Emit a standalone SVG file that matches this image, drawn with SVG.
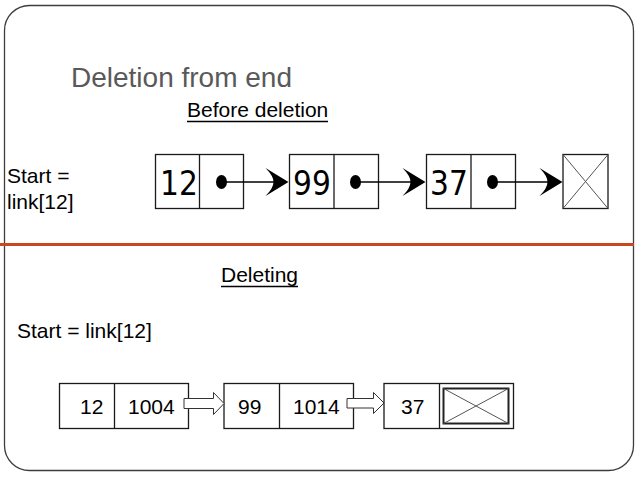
<svg xmlns="http://www.w3.org/2000/svg" width="638" height="478" viewBox="0 0 638 478">
<defs>
<style>
.frame{fill:#fff;stroke:#3d3d3d;stroke-width:1.3}
.box{fill:#fff;stroke:#1a1a1a;stroke-width:1.3}
.thin{stroke:#555;stroke-width:1;fill:none}
.big{font-family:"DejaVu Sans Condensed","DejaVu Sans",sans-serif;font-size:33px;fill:#000}
.lbl{font-family:"Liberation Sans",Arial,sans-serif;font-size:21px;fill:#000}
.title{font-family:"Liberation Sans",Arial,sans-serif;font-size:28px;fill:#595959}
.line{stroke:#000;stroke-width:1.5;fill:none}
.head{fill:#000}
.blk{fill:#fff;stroke:#333;stroke-width:1}
</style>
<path id="ah" d="M-23,-14 L0,0 L-23,14 Q-15,6 -15,0 Q-15,-6 -23,-14 Z"/>
</defs>
<rect class="frame" x="4.5" y="5.5" width="629" height="465" rx="25" ry="25"/>
<line x1="0" y1="244.5" x2="634" y2="244.5" stroke="#c9471a" stroke-width="3"/>
<g id="title"><text class="title" x="71" y="87">Deletion from end</text></g>
<g id="label-before"><text class="lbl" x="187" y="117">Before deletion</text><line x1="187" y1="121.5" x2="328" y2="121.5" stroke="#000" stroke-width="1.3"/></g>
<g id="label-start1"><text class="lbl" x="7" y="183">Start =</text><text class="lbl" x="7" y="209">link[12]</text></g>
<g id="label-deleting"><text class="lbl" x="221" y="282">Deleting</text><line x1="221" y1="286.5" x2="298" y2="286.5" stroke="#000" stroke-width="1.3"/></g>
<g id="label-start2"><text class="lbl" x="17" y="338">Start = link[12]</text></g>

<g id="top-node-12"><rect class="box" x="155.5" y="154.5" width="88" height="54"/><line class="box" x1="199.5" y1="154.5" x2="199.5" y2="208.5"/><text class="big" x="160" y="195">12</text><ellipse cx="221.5" cy="182" rx="5.5" ry="7" fill="#000"/></g>
<g id="top-node-99"><rect class="box" x="289.5" y="154.5" width="89" height="54"/><line class="box" x1="334" y1="154.5" x2="334" y2="208.5"/><text class="big" x="293" y="195">99</text><ellipse cx="355.5" cy="182" rx="5.5" ry="7" fill="#000"/></g>
<g id="top-node-37"><rect class="box" x="426.5" y="154.5" width="89" height="54"/><line class="box" x1="471" y1="154.5" x2="471" y2="208.5"/><text class="big" x="430" y="195">37</text><ellipse cx="492.5" cy="182" rx="5.5" ry="7" fill="#000"/></g>
<g id="top-null"><rect class="box" x="563" y="154.5" width="45" height="54"/><line class="thin" x1="563" y1="154.5" x2="608" y2="208.5"/><line class="thin" x1="608" y1="154.5" x2="563" y2="208.5"/></g>

<g id="top-connectors">
<line class="line" x1="221.5" y1="182" x2="276" y2="182"/>
<use href="#ah" class="head" transform="translate(288.5,182)"/>
<line class="line" x1="355.5" y1="182" x2="413" y2="182"/>
<use href="#ah" class="head" transform="translate(425.5,182)"/>
<line class="line" x1="492.5" y1="182" x2="550" y2="182"/>
<use href="#ah" class="head" transform="translate(562.5,182)"/>
</g>

<g id="bot-node-12"><rect class="box" x="59.5" y="383.5" width="129" height="45"/><line class="box" x1="114.5" y1="383.5" x2="114.5" y2="428.5"/><text class="lbl" x="80" y="414">12</text><text class="lbl" x="128" y="414">1004</text></g>
<g id="bot-node-99"><rect class="box" x="224" y="383.5" width="129.5" height="45"/><line class="box" x1="279.5" y1="383.5" x2="279.5" y2="428.5"/><text class="lbl" x="238" y="414">99</text><text class="lbl" x="293" y="414">1014</text></g>
<g id="bot-node-37"><rect class="box" x="384" y="383.5" width="129.5" height="45"/><line class="box" x1="439.5" y1="383.5" x2="439.5" y2="428.5"/><text class="lbl" x="401" y="414">37</text><rect x="443.5" y="388.5" width="65" height="35" fill="none" stroke="#222" stroke-width="2"/><line class="thin" x1="443.5" y1="388.5" x2="508.5" y2="423.5"/><line class="thin" x1="508.5" y1="388.5" x2="443.5" y2="423.5"/></g>

<g id="bot-connectors">
<path class="blk" d="M184,398.5 H213.5 V392.5 L224,403.5 L213.5,414.5 V408.5 H184 Z"/>
<path class="blk" d="M347,398.5 H373.5 V392.5 L384,403 L373.5,413.5 V408 H347 Z"/>
</g>
</svg>
